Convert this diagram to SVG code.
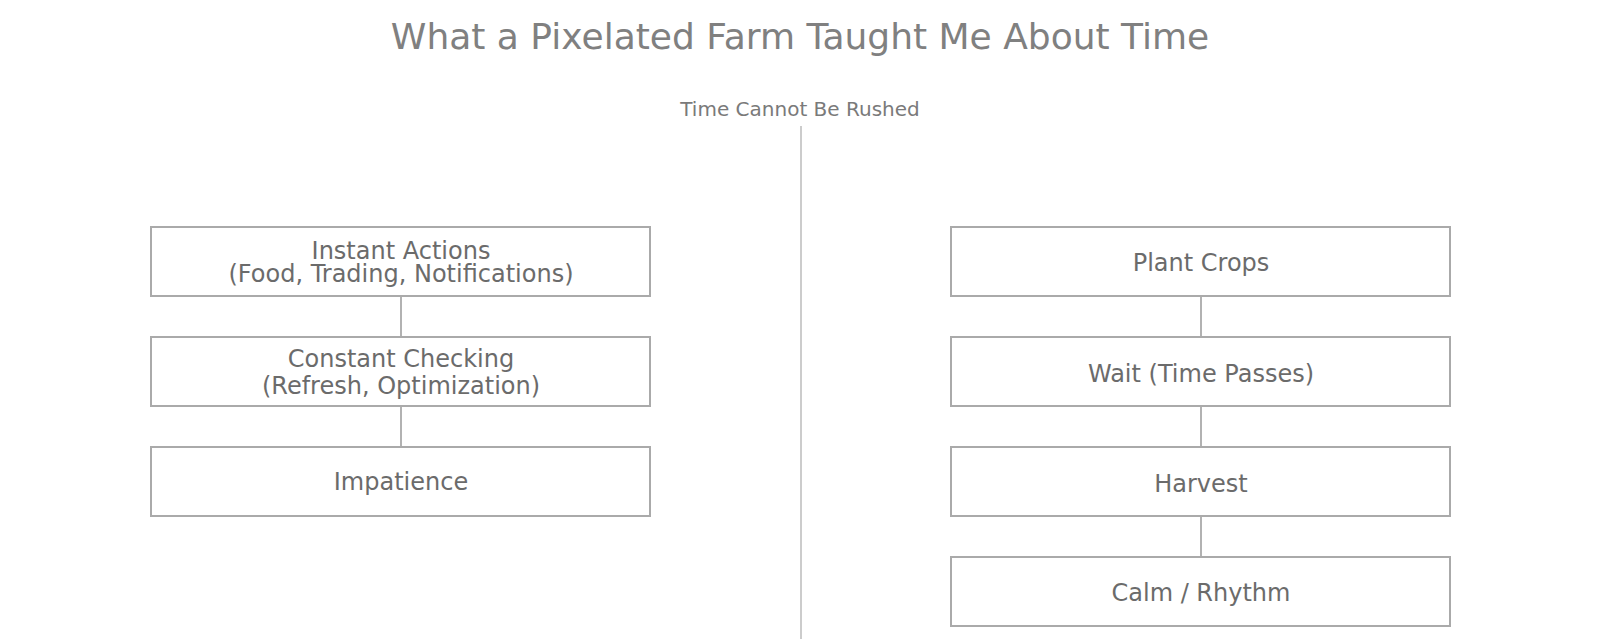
<svg xmlns="http://www.w3.org/2000/svg" width="1600" height="639" viewBox="0 0 1600 639">
<style>
.box{fill:#fff;stroke:#aaaaaa;stroke-width:2}
.lbl{font-family:"DejaVu Sans",sans-serif;font-size:24px;fill:#6b6b6b;text-anchor:middle}
.con{stroke:#999999;stroke-width:1.5;fill:none}
.div{stroke:#bbbbbb;stroke-width:1.5;fill:none}
</style>
<rect width="1600" height="639" fill="#fff"/>
<text x="800" y="49" font-family="DejaVu Sans, sans-serif" font-size="36" fill="#808080" text-anchor="middle">What a Pixelated Farm Taught Me About Time</text>
<text x="800" y="116" font-family="DejaVu Sans, sans-serif" font-size="20" fill="#7a7a7a" text-anchor="middle">Time Cannot Be Rushed</text>
<g id="connectors">
<line class="div" x1="801" y1="126" x2="801" y2="639"/>
<line class="con" x1="401" y1="296" x2="401" y2="337"/>
<line class="con" x1="401" y1="406" x2="401" y2="447"/>
<line class="con" x1="1201" y1="296" x2="1201" y2="337"/>
<line class="con" x1="1201" y1="406" x2="1201" y2="447"/>
<line class="con" x1="1201" y1="516" x2="1201" y2="557"/>
</g>
<g id="n1"><rect class="box" x="151" y="227" width="499" height="69"/><text class="lbl" x="401" y="258.5">Instant Actions</text><text class="lbl" x="401" y="281.5">(Food, Trading, Notifications)</text></g>
<g id="n2"><rect class="box" x="151" y="337" width="499" height="69"/><text class="lbl" x="401" y="367">Constant Checking</text><text class="lbl" x="401" y="394">(Refresh, Optimization)</text></g>
<g id="n3"><rect class="box" x="151" y="447" width="499" height="69"/><text class="lbl" x="401" y="490">Impatience</text></g>
<g id="n4"><rect class="box" x="951" y="227" width="499" height="69"/><text class="lbl" x="1201" y="271">Plant Crops</text></g>
<g id="n5"><rect class="box" x="951" y="337" width="499" height="69"/><text class="lbl" x="1201" y="382">Wait (Time Passes)</text></g>
<g id="n6"><rect class="box" x="951" y="447" width="499" height="69"/><text class="lbl" x="1201" y="492">Harvest</text></g>
<g id="n7"><rect class="box" x="951" y="557" width="499" height="69"/><text class="lbl" x="1201" y="601">Calm / Rhythm</text></g>
</svg>
